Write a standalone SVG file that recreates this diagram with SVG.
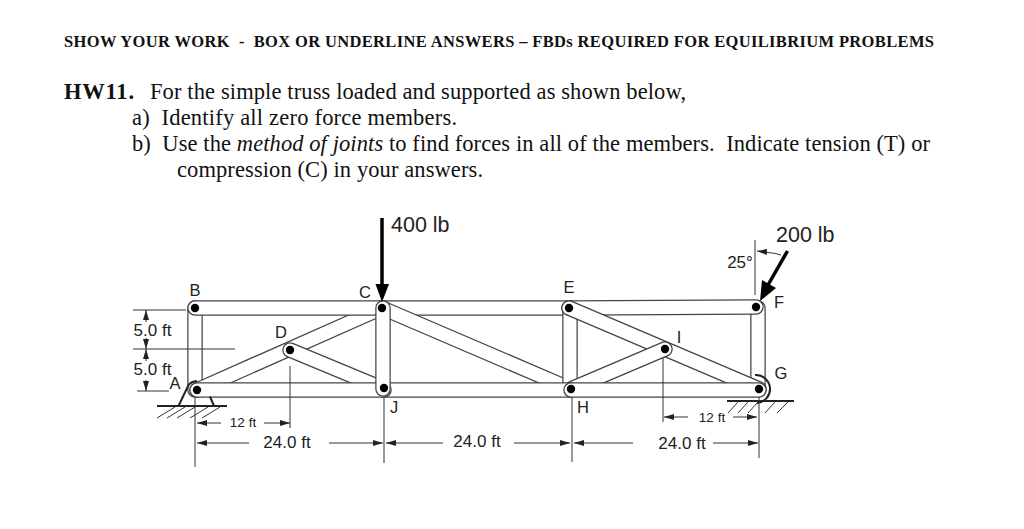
<svg xmlns="http://www.w3.org/2000/svg" width="1024" height="529" viewBox="0 0 1024 529">
<defs>
<marker id="ah" viewBox="0 0 10 6" refX="10" refY="3" markerWidth="10" markerHeight="6" markerUnits="userSpaceOnUse" orient="auto-start-reverse"><path d="M0 0L10 3L0 6Z" fill="#222"/></marker>
</defs>
<style>
.t{font-family:"Liberation Serif","Times New Roman",serif;fill:#111;white-space:pre}
.h{font-size:16.5px;font-weight:bold}
.b{font-size:22.5px}
.l{font-family:"Liberation Sans",Arial,sans-serif;fill:#222;font-size:16.5px;text-anchor:middle}
.s{font-family:"Liberation Sans",Arial,sans-serif;fill:#222;font-size:13.5px;text-anchor:middle}
.d{font-family:"Liberation Sans",Arial,sans-serif;fill:#222;font-size:17px;text-anchor:middle}
.f{font-family:"Liberation Sans",Arial,sans-serif;fill:#222;font-size:21.5px}
.m{stroke:#444;stroke-width:15.5;stroke-linecap:round;fill:none}
.w{stroke:#fff;stroke-width:13;stroke-linecap:round;fill:none}
.e{stroke:#333;stroke-width:1;fill:none}
.dl{stroke:#333;stroke-width:1;fill:none;marker-end:url(#ah)}
.g{stroke:#222;stroke-width:2;fill:none}
.p{fill:#000}
</style>
<g id="text">
<text class="t h" x="64" y="47" textLength="870">SHOW YOUR WORK  -  BOX OR UNDERLINE ANSWERS – FBDs REQUIRED FOR EQUILIBRIUM PROBLEMS</text>
<text class="t b" x="64" y="99" font-weight="bold" textLength="70">HW11.</text>
<text class="t b" x="150" y="99" textLength="536">For the simple truss loaded and supported as shown below,</text>
<text class="t b" x="132" y="125" textLength="325">a)  Identify all zero force members.</text>
<text class="t b" x="132" y="151" textLength="798">b)  Use the <tspan font-style="italic">method of joints</tspan> to find forces in all of the members.  Indicate tension (T) or</text>
<text class="t b" x="177" y="177" textLength="306">compression (C) in your answers.</text>
</g>
<g id="connectors">
<g id="members">
<path class="m" d="M382 308L569 308"/><path class="w" d="M382 308L569 308"/>
<path class="m" d="M382 308L571 389"/><path class="w" d="M382 308L571 389"/>
<path class="m" d="M570 308L570 389"/><path class="w" d="M570 308L570 389"/>
<path class="m" d="M758 308L758 389"/><path class="w" d="M758 308L758 389"/>
<path class="m" d="M195 308L195 390"/><path class="w" d="M195 308L195 390"/>
<path class="m" d="M197 390L382 308"/><path class="w" d="M197 390L382 308"/>
<path class="m" d="M569 308L756 307"/><path class="w" d="M569 308L756 307"/>
<path class="m" d="M569 308L759 389"/><path class="w" d="M569 308L759 389"/>
<path class="m" d="M290 350L384 389"/><path class="w" d="M290 350L384 389"/>
<path class="m" d="M571 389L665 349"/><path class="w" d="M571 389L665 349"/>
<path class="m" d="M384 390L571 390"/><path class="w" d="M384 390L571 390"/>
<path class="m" d="M571 390L759 390"/><path class="w" d="M571 390L759 390"/>
<path class="m" d="M197 390L384 390"/><path class="w" d="M197 390L384 390"/>
<path class="m" d="M195 308L382 308"/><path class="w" d="M195 308L382 308"/>
<path class="m" d="M383 308L383 389"/><path class="w" d="M383 308L383 389"/>
</g>
<g id="supports">
<path class="g" d="M178.500 406L188.500 385Q191 381.500 197 381"/>
<path class="g" d="M210 396.500L214 406"/>
<path class="g" d="M157 406H227"/>
<path class="e" d="M175 407L157 418M185 407L167 418M195 407L177 418M208 407L190 418M220 407L202 418"/>
<path d="M755 375A14 14 0 0 1 757 403" stroke="#222" stroke-width="2" fill="none"/>
<path class="g" d="M727 401H794"/>
<path class="e" d="M738 402L728 413M748 402L738 413M758 402L748 413M775 402L765 413M788 402L777 413"/>
</g>
<g id="dimensions">
<path class="e" d="M133 310H186M133 349H235M137 391H169"/>
<path class="dl" d="M146 322L146 310"/><path class="dl" d="M146 338L146 349"/>
<path class="dl" d="M146 361L146 349"/><path class="dl" d="M146 380L146 391"/>
<path class="e" d="M195 398V467M290 366V428M384 398V463M572 397V462M759 397V458M663 358V422"/>
<path class="dl" d="M221 423H197"/><path class="dl" d="M264 423H290"/>
<path class="dl" d="M249 443H197"/><path class="dl" d="M329 443H383"/>
<path class="dl" d="M443 443H386"/><path class="dl" d="M514 443H570"/>
<path class="dl" d="M633 443H574"/><path class="dl" d="M713 443H758"/>
<path class="dl" d="M688 417H664"/><path class="dl" d="M733 417H757"/>
<path class="e" d="M755 240V295"/>
<path class="e" d="M768 252.500Q775 253 781 255"/>
<path class="dl" d="M768 252.500Q762 251.500 757 251"/>
</g>
<g id="forces">
<path d="M382 218V285" stroke="#000" stroke-width="3.500" fill="none"/>
<path class="p" d="M375.500 284H389L382 302Z"/>
<path d="M787.500 251L768 285" stroke="#000" stroke-width="3.500" fill="none"/>
<path class="p" d="M760 301L762 280L776 288Z"/>
</g>
</g>
<g id="node-A"><circle class="p" cx="197" cy="390" r="4.200"/><text class="l" x="175" y="388.500">A</text></g>
<g id="node-B"><circle class="p" cx="195" cy="308" r="4.200"/><text class="l" x="195" y="295.500">B</text></g>
<g id="node-C"><circle class="p" cx="382" cy="308" r="4.200"/><text class="l" x="365" y="298">C</text></g>
<g id="node-D"><circle class="p" cx="290" cy="350" r="4.200"/><text class="l" x="281" y="337.500">D</text></g>
<g id="node-E"><circle class="p" cx="569" cy="308" r="4.200"/><text class="l" x="569" y="292.500">E</text></g>
<g id="node-F"><circle class="p" cx="756" cy="307" r="4.200"/><text class="l" x="779" y="307.500">F</text></g>
<g id="node-G"><circle class="p" cx="759" cy="389" r="4.200"/><text class="l" x="781" y="378.500">G</text></g>
<g id="node-H"><circle class="p" cx="571" cy="389" r="4.200"/><text class="l" x="583" y="412.500">H</text></g>
<g id="node-I"><circle class="p" cx="665" cy="349" r="4.200"/><text class="l" x="679" y="342.500">I</text></g>
<g id="node-J"><circle class="p" cx="384" cy="388" r="4.200"/><text class="l" x="394" y="413">J</text></g>
<g id="labels">
<text class="d" x="152.500" y="336">5.0 ft</text>
<text class="d" x="152.500" y="375">5.0 ft</text>
<text class="s" x="243" y="427">12 ft</text>
<text class="d" x="287" y="448">24.0 ft</text>
<text class="d" x="477" y="447">24.0 ft</text>
<text class="d" x="682" y="449">24.0 ft</text>
<text class="s" x="712" y="422">12 ft</text>
<text class="d" x="740" y="268">25°</text>
<text class="f" x="391" y="232">400 lb</text>
<text class="f" x="776" y="242">200 lb</text>
</g>
</svg>
